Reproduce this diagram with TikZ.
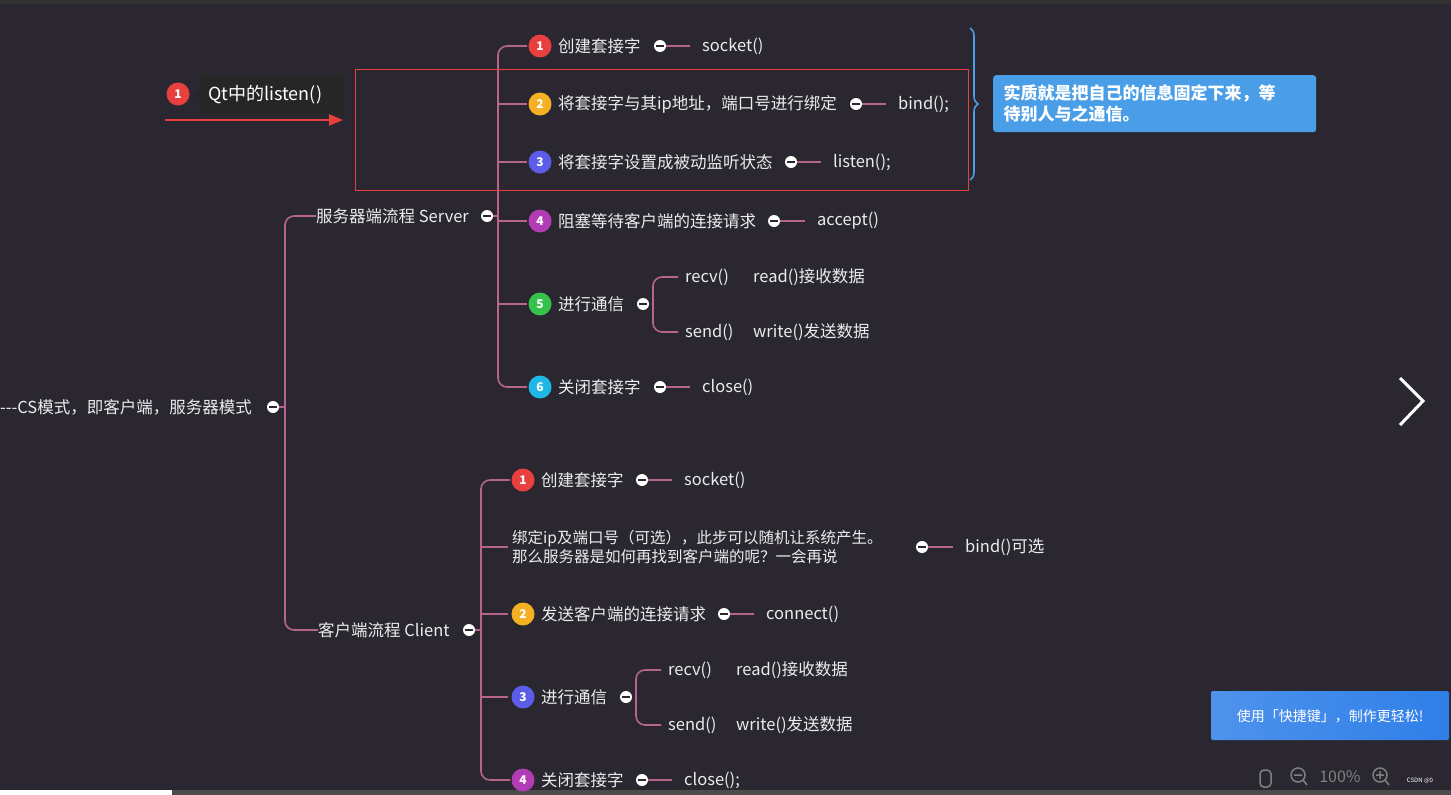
\documentclass[tikz,border=0pt]{standalone}
\usepackage{fontspec}
\setmainfont{Noto Sans CJK SC}
\usetikzlibrary{decorations.pathreplacing,arrows.meta}
\definecolor{bg}{HTML}{2B2730}
\definecolor{ln}{HTML}{B5668A}
\definecolor{tx}{HTML}{ECECEC}
\definecolor{cR}{HTML}{E8403F}
\definecolor{cO}{HTML}{F5B123}
\definecolor{cB}{HTML}{5B5DE8}
\definecolor{cP}{HTML}{B23CB5}
\definecolor{cG}{HTML}{35C24B}
\definecolor{cC}{HTML}{1FB8E6}
\definecolor{blu}{HTML}{4A9EE8}
\definecolor{blu2}{HTML}{2F7FE8}
\begin{document}
\begin{tikzpicture}[x=1pt,y=-1pt,
 txt/.style={text=tx,font=\fontsize{16.5}{19}\selectfont,anchor=west,inner sep=0pt},
 badge/.style={circle,fill=#1,minimum size=23pt,inner sep=0pt,text=white,font=\fontsize{12}{12}\selectfont\bfseries},
 coll/.style={circle,fill=white,minimum size=12pt,inner sep=0pt},
 br/.style={draw=ln,line width=1.6pt},
 brc/.style={draw=ln,line width=1.6pt,rounded corners=9pt}]
\fill[bg] (0,0) rectangle (1451,795);
\fill[black!80] (0,0) rectangle (1451,4);
\fill[black!70] (0,790) rectangle (1451,795);
\fill[white] (0,790) rectangle (172,795);
\newcommand{\cl}[2]{\node[coll] (#1) at (#2) {}; \draw[bg,line width=1.6pt] ([xshift=-4pt]#1.center) -- ([xshift=4pt]#1.center);}
% root
\node[txt] (root) at (0,407) {{-}{-}{-}CS模式，即客户端，服务器模式};
\cl{rc}{273,407}
\draw[br] (rc) -- (285,407);
\draw[brc] (316,216) -- (285,216) -- (285,630) -- (318,630);
\node[txt] (srv) at (316,216) {服务器端流程 Server};
\node[txt] (cli) at (318,630) {客户端流程 Client};
% server
\cl{sc}{487,216}
\draw[br] (sc) -- (498,216);
\draw[brc] (527,46) -- (498,46) -- (498,387) -- (527,387);
\foreach \y in {104,162,221,304} \draw[br] (498,\y) -- (527,\y);
\node[badge=cR] (s1) at (540,46) {1};
\node[txt] (s1t) at (558,46) {创建套接字};
\cl{s1c}{660,46} \draw[br] (s1c) -- (690,46);
\node[txt] at (702,46) {socket()};
\node[badge=cO] (s2) at (540,104) {2};
\node[txt] (s2t) at (558,104) {将套接字与其ip地址，端口号进行绑定};
\cl{s2c}{856,104} \draw[br] (s2c) -- (886,104);
\node[txt] at (898,104) {bind();};
\node[badge=cB] (s3) at (540,162) {3};
\node[txt] (s3t) at (558,162) {将套接字设置成被动监听状态};
\cl{s3c}{791,162} \draw[br] (s3c) -- (821,162);
\node[txt] at (833,162) {listen();};
\node[badge=cP] (s4) at (540,221) {4};
\node[txt] (s4t) at (558,221) {阻塞等待客户端的连接请求};
\cl{s4c}{774,221} \draw[br] (s4c) -- (805,221);
\node[txt] at (817,221) {accept()};
\node[badge=cG] (s5) at (540,304) {5};
\node[txt] (s5t) at (558,304) {进行通信};
\cl{s5c}{643,304}
\draw[brc] (678,277) -- (653,277) -- (653,332) -- (678,332);
\node[txt] at (685,277) {recv()};
\node[txt] at (753,277) {read()接收数据};
\node[txt] at (685,332) {send()};
\node[txt] at (753,332) {write()发送数据};
\node[badge=cC] (s6) at (540,387) {6};
\node[txt] (s6t) at (558,387) {关闭套接字};
\cl{s6c}{660,387} \draw[br] (s6c) -- (690,387);
\node[txt] at (702,387) {close()};
% client
\cl{cc}{469,630}
\draw[br] (cc) -- (481,630);
\draw[brc] (510,480) -- (481,480) -- (481,780) -- (510,780);
\foreach \y in {547,614,697} \draw[br] (481,\y) -- (508,\y);
\node[badge=cR] (c1) at (523,480) {1};
\node[txt] at (541,480) {创建套接字};
\cl{c1c}{642,480} \draw[br] (c1c) -- (672,480);
\node[txt] at (684,480) {socket()};
\node[txt,align=left,font=\fontsize{15.5}{19}\selectfont] (cb) at (512,547) {绑定ip及端口号（可选），此步可以随机让系统产生。\\那么服务器是如何再找到客户端的呢？一会再说};
\cl{cbc}{922,547} \draw[br] (cbc) -- (953,547);
\node[txt] at (965,547) {bind()可选};
\node[badge=cO] (c2) at (523,614) {2};
\node[txt] at (541,614) {发送客户端的连接请求};
\cl{c2c}{724,614} \draw[br] (c2c) -- (754,614);
\node[txt] at (766,614) {connect()};
\node[badge=cB] (c3) at (523,697) {3};
\node[txt] at (541,697) {进行通信};
\cl{c3c}{626,697}
\draw[brc] (661,670) -- (636,670) -- (636,725) -- (661,725);
\node[txt] at (668,670) {recv()};
\node[txt] at (736,670) {read()接收数据};
\node[txt] at (668,725) {send()};
\node[txt] at (736,725) {write()发送数据};
\node[badge=cP] (c4) at (523,780) {4};
\node[txt] at (541,780) {关闭套接字};
\cl{c4c}{642,780} \draw[br] (c4c) -- (672,780);
\node[txt] at (684,780) {close();};
% annotations
\draw[cR,line width=1pt] (355,69) rectangle (968,190);
\draw[blu,line width=1.6pt,decorate,decoration={brace,amplitude=8pt}] (970,28) -- (970,180);
\node[fill=blu,rounded corners=3pt,minimum width=323pt,minimum height=57pt,inner sep=0pt,anchor=north west] (note) at (993,75) {};
\node[text=white,font=\fontsize{17}{21}\selectfont\bfseries,align=left,anchor=west] at (1000,103.5) {实质就是把自己的信息固定下来，等\\待别人与之通信。};
\node[fill=black!85,rounded corners=2pt,minimum width=143pt,minimum height=39pt,inner sep=0pt,anchor=north west] (qt) at (200,75) {};
\node[text=white,font=\fontsize{18}{20}\selectfont,anchor=west,inner sep=0pt] at (208,95) {Qt中的listen()};
\fill[black!85] (200,89) -- (194,95) -- (200,101) -- cycle;
\node[badge=cR] (qb) at (178,94) {1};
\coordinate (a1) at (165,120); \coordinate (a2) at (343,120);
\draw[cR,line width=2.5pt,-{Triangle[length=14pt,width=11pt]}] (a1) -- (a2);
% right chevron
\draw[white,line width=3pt] (1400,378) -- (1423,401) -- (1400,425);
% shortcut box
\shade[left color=blu2!85!white,right color=blu2,rounded corners=2pt] (1211,691) rectangle (1449,740);
\node[text=white,font=\fontsize{14}{16}\selectfont] (sc2) at (1330,716) {使用「快捷键」，制作更轻松!};
\node[text=gray,font=\fontsize{16}{16}\selectfont] at (1340,777) {100\%};
\draw[gray,line width=1.5pt] (1298,775) circle (7pt) (1294,775) -- (1302,775) (1303,780) -- (1307,785);
\draw[gray,line width=1.5pt] (1380,775) circle (7pt) (1376,775) -- (1384,775) (1380,771) -- (1380,779) (1385,780) -- (1389,785);
\draw[gray,line width=1.5pt,rounded corners=4pt] (1260,770) rectangle (1271,787);
\node[text=white,font=\fontsize{6}{6}\selectfont] at (1420,781) {CSDN @0};
\end{tikzpicture}
\end{document}
